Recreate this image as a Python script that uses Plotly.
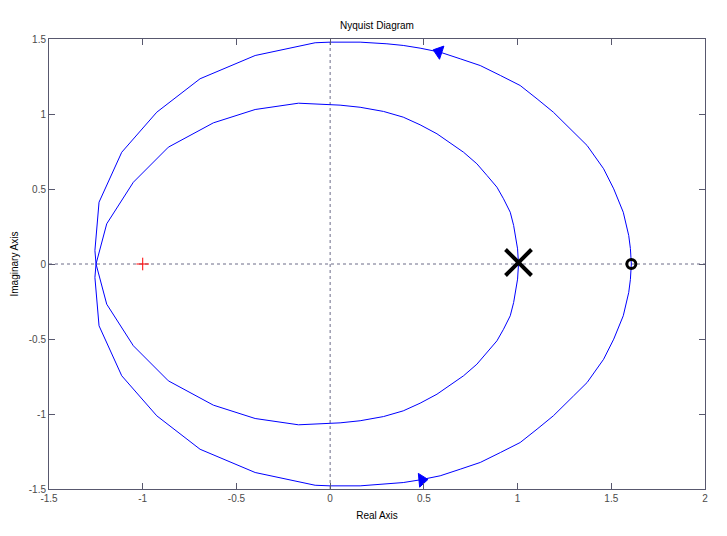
import plotly.graph_objects as go

# Positive-frequency branch of the Nyquist curve:
# outer upper arc from (1.607, 0) to the crossing, then inner lower arc to (1.005, 0)
outer_re = [1.607, 1.602, 1.593, 1.564, 1.513, 1.477, 1.459, 1.371, 1.299, 1.191,
            1.104, 1.014, 0.908, 0.801, 0.694, 0.587, 0.480, 0.390, 0.303, 0.160,
            0.000, -0.080, -0.400, -0.694, -0.925, -1.112, -1.233, -1.255, -1.249]
outer_im = [0.000, 0.103, 0.190, 0.345, 0.501, 0.590, 0.635, 0.790, 0.879, 1.012,
            1.101, 1.190, 1.257, 1.323, 1.368, 1.412, 1.439, 1.457, 1.468, 1.479,
            1.479, 1.475, 1.390, 1.235, 1.012, 0.745, 0.412, 0.090, 0.000]
inner_re = [-1.249, -1.192, -1.050, -0.863, -0.623, -0.400, -0.169, -0.053, 0.053, 0.160,
            0.285, 0.390, 0.480, 0.570, 0.712, 0.783, 0.837, 0.890, 0.925, 0.961,
            0.979, 1.000, 1.005]
inner_im = [0.000, -0.268, -0.545, -0.779, -0.941, -1.030, -1.072, -1.063, -1.059, -1.045,
            -1.017, -0.979, -0.928, -0.868, -0.745, -0.668, -0.590, -0.512, -0.435, -0.345,
            -0.257, -0.101, 0.000]

pos_re = outer_re + inner_re[1:]
pos_im = outer_im + inner_im[1:]
# Negative-frequency branch is the mirror image (complex conjugate)
neg_re = pos_re[::-1]
neg_im = [-v for v in pos_im[::-1]]

# Direction arrows: [previous point, arrow point]
arrow_up_re = [0.801, 0.580]
arrow_up_im = [1.323, 1.415]
arrow_dn_re = [0.160, 0.490]
arrow_dn_im = [-1.479, -1.440]

critical_pt = (-1.0, 0.0)
x_mark = (1.005, 0.01)
o_mark = (1.607, 0.0)

x_ticks = [-1.5, -1, -0.5, 0, 0.5, 1, 1.5, 2]
x_ticklabels = ["-1.5", "-1", "-0.5", "0", "0.5", "1", "1.5", "2"]
y_ticks = [-1.5, -1, -0.5, 0, 0.5, 1, 1.5]
y_ticklabels = ["-1.5", "-1", "-0.5", "0", "0.5", "1", "1.5"]

BLUE = "#0000ff"
AXC = "#58586e"
DASHC = "#6c6c88"
FONT = "Liberation Sans, Arial, sans-serif"

fig = go.Figure()

fig.add_trace(go.Scatter(x=pos_re, y=pos_im, mode="lines",
                         line=dict(color=BLUE, width=1), hoverinfo="skip"))
fig.add_trace(go.Scatter(x=neg_re, y=neg_im, mode="lines",
                         line=dict(color=BLUE, width=1), hoverinfo="skip"))

for ax_re, ax_im in [(arrow_up_re, arrow_up_im), (arrow_dn_re, arrow_dn_im)]:
    fig.add_trace(go.Scatter(x=ax_re, y=ax_im, mode="markers",
                             marker=dict(symbol="triangle-up", size=[0, 12], color=BLUE,
                                         opacity=1, angleref="previous",
                                         line=dict(width=1, color=BLUE)),
                             hoverinfo="skip"))

fig.add_trace(go.Scatter(x=[critical_pt[0]], y=[critical_pt[1]], mode="markers",
                         marker=dict(symbol="cross-thin", size=9,
                                     line=dict(color="red", width=1)),
                         hoverinfo="skip"))
fig.add_trace(go.Scatter(x=[x_mark[0]], y=[x_mark[1]], mode="markers",
                         marker=dict(symbol="x-thin", size=26,
                                     line=dict(color="black", width=4)),
                         hoverinfo="skip"))
fig.add_trace(go.Scatter(x=[o_mark[0]], y=[o_mark[1]], mode="markers",
                         marker=dict(symbol="circle-open", size=9, color="black",
                                     line=dict(color="black", width=3)),
                         hoverinfo="skip"))

# dashed zero lines
fig.add_shape(type="line", xref="x", yref="y domain", x0=0, x1=0, y0=0, y1=1,
              line=dict(color=DASHC, width=1, dash="3px,3px"), layer="below")
fig.add_shape(type="line", xref="x domain", yref="y", x0=0, x1=1, y0=0, y1=0,
              line=dict(color=DASHC, width=1, dash="3px,3px"), layer="below")

axis_common = dict(showgrid=False, zeroline=False, showline=True, linecolor=AXC,
                   linewidth=1, mirror="ticks", ticks="inside", ticklen=6,
                   tickcolor=AXC, tickwidth=1, automargin=False,
                   tickfont=dict(family=FONT, size=10, color="#4a4a4a"))

# The page body adds an 8px offset; the figure size and margins compensate for it.
fig.update_layout(
    width=719, height=528,
    margin=dict(l=41, r=22, t=31, b=47),
    paper_bgcolor="white", plot_bgcolor="white",
    showlegend=False,
    title=dict(text="Nyquist Diagram", x=0.5, xref="paper", xanchor="center",
               y=1 - 17 / 528, yref="container", yanchor="middle",
               font=dict(family=FONT, size=10, color="black")),
    xaxis=dict(range=[-1.5, 2], tickvals=x_ticks, ticktext=x_ticklabels,
               title=dict(text="Real Axis", standoff=8,
                          font=dict(family=FONT, size=10, color="black")),
               **axis_common),
    yaxis=dict(range=[-1.5, 1.5], tickvals=y_ticks, ticktext=y_ticklabels,
               title=dict(text="Imaginary Axis", standoff=8,
                          font=dict(family=FONT, size=10, color="black")),
               **axis_common),
)

fig.write_html("out.html")
